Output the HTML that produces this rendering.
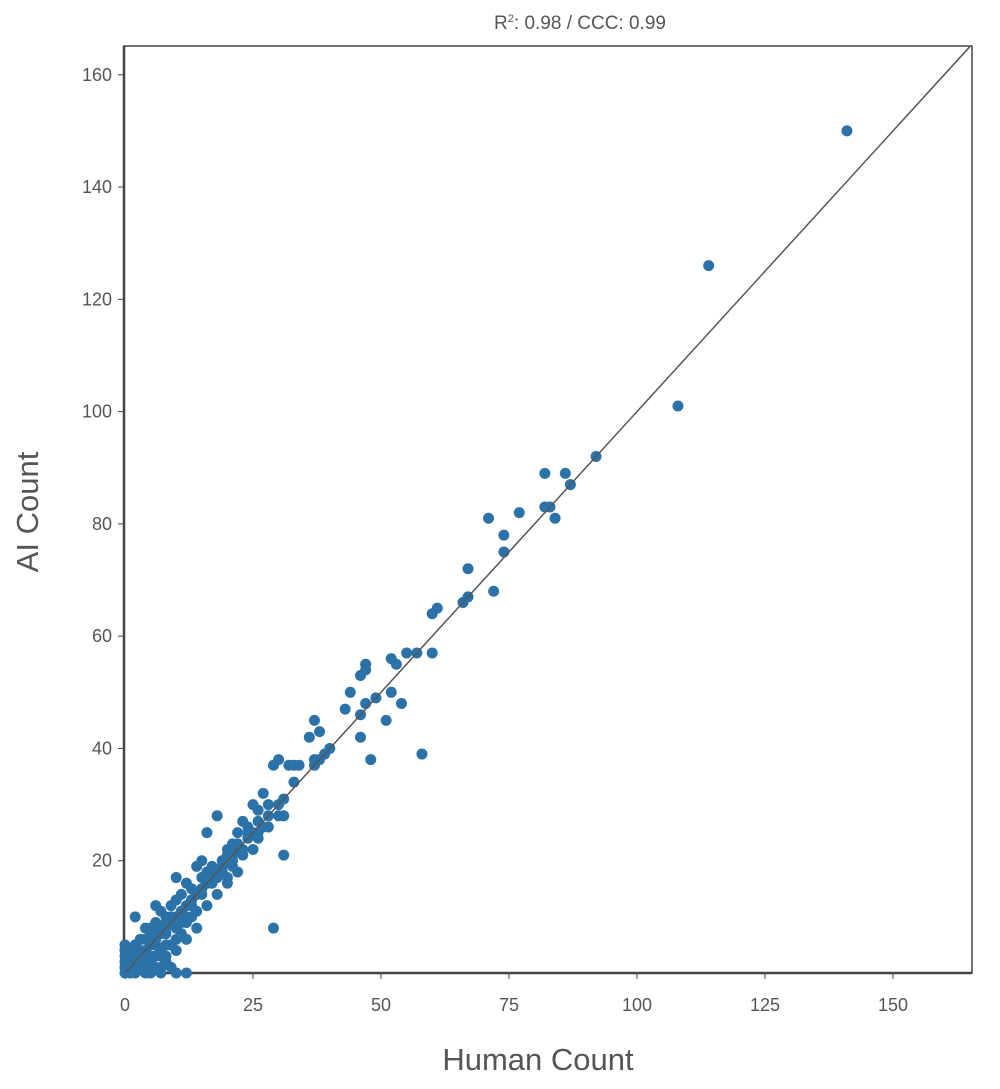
<!DOCTYPE html>
<html><head><meta charset="utf-8"><style>
body{margin:0;background:#fff;font-family:"Liberation Sans",sans-serif;}
svg text{fill:#555;}
</style></head><body>
<svg width="1000" height="1084" xmlns="http://www.w3.org/2000/svg">
<text x="580" y="29" font-size="19" text-anchor="middle">R<tspan font-size="11" dy="-7">2</tspan><tspan dy="7">: 0.98 / CCC: 0.99</tspan></text>
<text x="538" y="1070" font-size="31" text-anchor="middle">Human Count</text>
<text transform="translate(38,512) rotate(-90)" font-size="31" text-anchor="middle">AI Count</text>
<g id="plot"></g>
</svg>
<script>
const xTicks=[0,25,50,75,100,125,150];
const yTicks=[20,40,60,80,100,120,140,160];
const human=[141,114,108,92,87,86,84,83,82,82,77,74,74,71,72,67,67,66,61,60,60,58,57,55,53,52,52,54,51,49,48,47,47,46,47,46,46,44,43,40,39,38,38,37,36,37,37,34,33,33,32,30,29,31,30,31,31,29,28,27,28,26,26,25,25,24,23,22,21,20,19,20,18,17,16,16,15,15,14,13,12,12,11,10,10,9,8,8,7,6,6,5,4,3,2,2,1,0,0,0,1,3,4,7,9,10,12,5,6,7,11,13,14,15,16,17,18,19,20,21,22,23,24,25,26,27,3,4,2,1,8,9,10,11,12,13,14,5,6,7,0,1,2,3,0,1,4,5,6,8,9,11,13,15,17,19,21,23,24,26,28,30,
0,1,2,3,4,5,6,0,1,2,3,4,5,0,1,2,3,4,1,2,3,4,5,6,7,8,9,10,11,12,13,3,4,5,6,7,8,9,10,11,12,13,14,15,16,17,18,19,20,21,22,2,5,7,8,10,12,14,16,18,20,22];
const ai=[150,126,101,92,87,89,81,83,83,89,82,78,75,81,68,72,67,66,65,64,57,39,57,57,55,56,50,48,45,49,38,55,54,53,48,46,42,50,47,40,39,38,43,45,42,37,38,37,34,37,37,38,37,31,30,28,21,8,30,32,28,27,25,30,25,24,27,22,23,21,20,17,28,17,25,18,17,15,14,15,12,10,11,13,17,9,8,10,7,6,12,5,4,3,10,2,1,0,3,5,4,1,0,0,1,0,0,2,9,11,14,10,19,20,16,19,17,18,22,19,25,21,26,22,29,26,6,8,5,2,5,12,8,7,16,13,11,8,3,4,1,0,3,2,4,3,2,7,5,7,10,9,12,14,16,20,20,22,25,24,26,28,
1,1,1,1,1,1,1,2,2,2,2,2,2,4,4,4,4,4,3,3,3,3,3,3,3,3,5,6,7,9,10,6,6,7,7,8,9,10,10,11,12,13,14,15,16,17,18,19,20,21,23,0,0,1,2,4,6,8,12,14,16,18];
const X0=125,XS=5.12,Y0=973,YS=5.614;
const xs=v=>X0+v*XS, ys=v=>Y0-v*YS;
const g=document.getElementById('plot');const NS='http://www.w3.org/2000/svg';
function mk(t,a){const e=document.createElementNS(NS,t);for(const k in a)e.setAttribute(k,a[k]);g.appendChild(e);return e;}
const fr=mk('rect',{x:124,y:46,width:848,height:927,fill:'none',stroke:'#444','stroke-width':1.5});


mk('line',{x1:124,x2:124,y1:46,y2:974,stroke:'#444','stroke-width':2.5});
mk('line',{x1:123,x2:972,y1:973,y2:973,stroke:'#444','stroke-width':2.5});
xTicks.forEach(t=>{mk('line',{x1:xs(t),x2:xs(t),y1:973,y2:979,stroke:'#444'});
const tx=mk('text',{x:xs(t),y:1011,'font-size':18,'text-anchor':'middle'});tx.textContent=t;

});
yTicks.forEach(t=>{mk('line',{x1:118,x2:124,y1:ys(t),y2:ys(t),stroke:'#444'});
const tx=mk('text',{x:112,y:ys(t)+6,'font-size':18,'text-anchor':'end'});tx.textContent=t;

});
human.forEach((h,i)=>{const c=mk('circle',{cx:xs(h),cy:ys(ai[i]),r:5.5,fill:'#2b72a8'});

});
const ln=mk('line',{x1:xs(0),y1:ys(0),x2:xs(165),y2:ys(165),stroke:'#555','stroke-width':1.5});


</script>
</body></html>
